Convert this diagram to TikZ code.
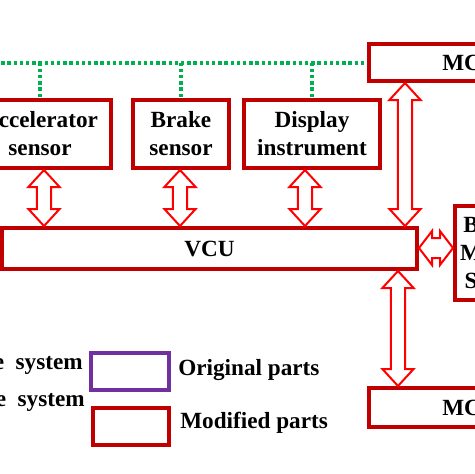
\documentclass[tikz,border=0pt]{standalone}
\usepackage{fontspec}
\setmainfont{Liberation Serif}
\usepackage{tikz}
\usetikzlibrary{calc}
\definecolor{partred}{HTML}{C00000}
\definecolor{arrowred}{HTML}{FF0000}
\definecolor{origpurple}{HTML}{7030A0}
\definecolor{busgreen}{HTML}{00B050}

\newcommand{\partfont}{\fontsize{16.5pt}{19.9pt}\selectfont\bfseries}
\tikzset{
  part/.style={draw=partred, line width=1mm, fill=white, inner sep=0pt, align=center, font=\partfont},
  legendtext/.style={inner sep=0pt, font=\partfont},
  blockarr/.style={draw=arrowred, line width=0.5mm, fill=white, line join=miter},
  canbus/.style={draw=busgreen, line width=1mm, dash pattern=on 0.85mm off 0.7mm}
}
% hollow double block arrows
\def\headw{3.9mm}\def\shaftw{1.8mm}\def\headl{4.25mm}
\newcommand{\vblock}[3]{% x, upper node, lower node
  \draw[blockarr] let \p0=(#1,0), \p1=(#2.south), \p2=(#3.north) in
    (\x0,\y1) -- (\x0+\headw,\y1-\headl) -- (\x0+\shaftw,\y1-\headl)
    -- (\x0+\shaftw,\y2+\headl) -- (\x0+\headw,\y2+\headl) -- (\x0,\y2)
    -- (\x0-\headw,\y2+\headl) -- (\x0-\shaftw,\y2+\headl)
    -- (\x0-\shaftw,\y1-\headl) -- (\x0-\headw,\y1-\headl) -- cycle;}
\newcommand{\hblock}[3]{% y, left node, right node
  \draw[blockarr] let \p0=(0,#1), \p1=(#2.east), \p2=(#3.west) in
    (\x1,\y0) -- (\x1+3.25mm,\y0+4.25mm) -- (\x1+3.25mm,\y0+2.5mm)
    -- (\x2-3.25mm,\y0+2.5mm) -- (\x2-3.25mm,\y0+4.25mm) -- (\x2,\y0)
    -- (\x2-3.25mm,\y0-4.25mm) -- (\x2-3.25mm,\y0-2.5mm)
    -- (\x1+3.25mm,\y0-2.5mm) -- (\x1+3.25mm,\y0-4.25mm) -- cycle;}

\begin{document}
\begin{tikzpicture}[x=0.25mm, y=-0.25mm]
  \useasboundingbox (0,0) rectangle (474,474);
  \node[part, minimum width=50.5mm, minimum height=9.25mm] (mcutop) at (470,62.5) {MCU};
  \node[part, minimum width=35.5mm, minimum height=17mm] (acc) at (40,134) {Accelerator\\sensor};
  \node[part, minimum width=24mm, minimum height=17mm] (brake) at (181,134) {Brake\\sensor};
  \node[part, minimum width=34mm, minimum height=17mm] (disp) at (312,134) {Display\\instrument};
  % bus line
  \coordinate (buswest) at (-5,62.5);
  \draw[canbus] (buswest) -- (mcutop.west);
  \draw[canbus] (acc.north |- buswest) -- (acc.north);
  \draw[canbus] (brake.north |- buswest) -- (brake.north);
  \draw[canbus] (disp.north |- buswest) -- (disp.north);

  \node[part, minimum width=103.75mm, minimum height=10.25mm] (vcu) at (209.5,248.5) {VCU};
  \node[part, minimum width=8mm, minimum height=23.5mm] (bms) at (471,253) {B\\M\\S};
  \node[part, minimum width=50.5mm, minimum height=9.75mm] (mcubot) at (470,407.5) {MCU};

  \vblock{44}{acc}{vcu}
  \vblock{180}{brake}{vcu}
  \vblock{305}{disp}{vcu}
  \vblock{405}{mcutop}{vcu}
  \vblock{398}{vcu}{mcubot}
  \hblock{248}{vcu}{bms}

  % legend
  \node[legendtext, anchor=east] (sysa) at (83,365) {e~~system};
  \node[legendtext, anchor=east] (sysb) at (85,402) {e~~system};
  \node[draw=origpurple, line width=0.9mm, minimum width=19.5mm, minimum height=9.25mm] (origbox) at (130,371.5) {};
  \node[draw=partred, line width=1mm, minimum width=19mm, minimum height=9.25mm] (modbox) at (131,426.5) {};
  \node[legendtext, anchor=west] (origtext) at (178,370) {Original parts};
  \node[legendtext, anchor=west] (modtext) at (180,423) {Modified parts};
\end{tikzpicture}
\end{document}
